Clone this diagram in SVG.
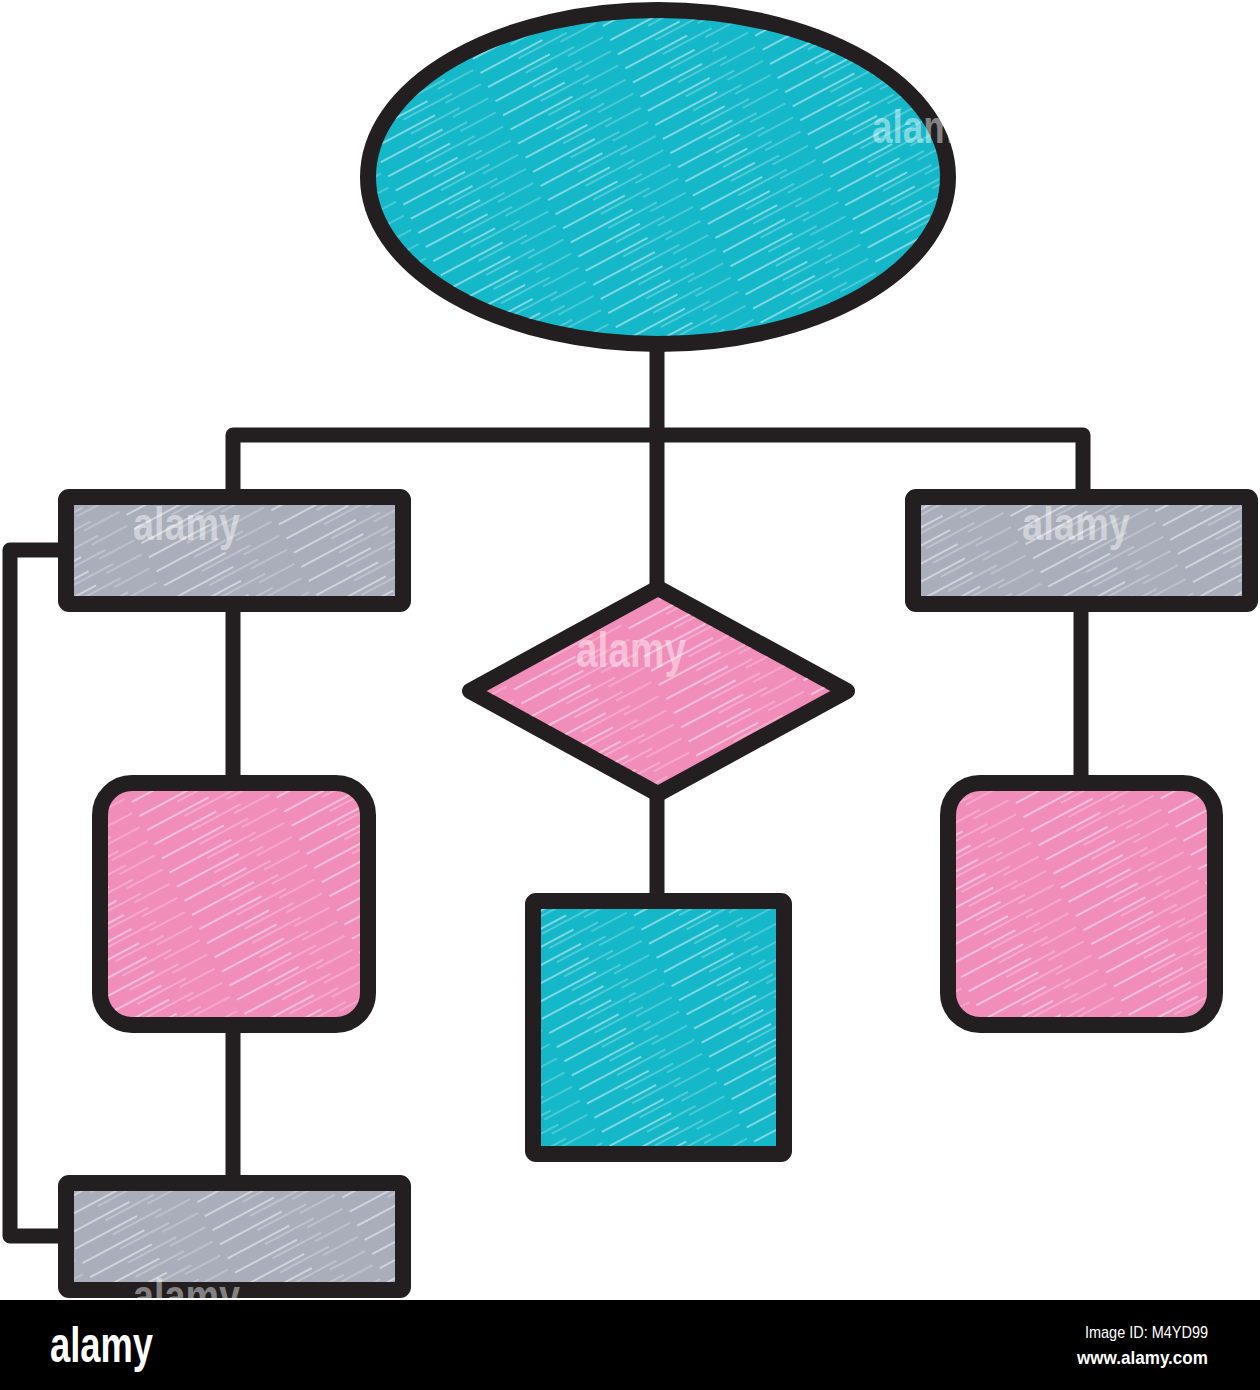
<svg xmlns="http://www.w3.org/2000/svg" width="1260" height="1390" viewBox="0 0 1260 1390">
<style>
.ln{stroke:#231f20;stroke-width:15;fill:none;stroke-linejoin:round}
.nd{stroke:#231f20;stroke-width:16;stroke-linejoin:round}
.teal{fill:#14b8c9}
.gray{fill:#a9aeba}
.pink{fill:#f18db9}
.wm{font-family:"Liberation Sans Narrow","Liberation Sans",Arial,sans-serif;font-weight:bold;fill:#ffffff;fill-opacity:0.45}
</style>
<defs>
<pattern id="hatch" width="130" height="16" patternUnits="userSpaceOnUse" patternTransform="rotate(-28)">
<line x1="0" y1="2" x2="70" y2="2" stroke="#ffffff" stroke-width="1.4" stroke-opacity="0.6"/>
<line x1="40" y1="7" x2="95" y2="7" stroke="#ffffff" stroke-width="1.1" stroke-opacity="0.5"/>
<line x1="85" y1="12" x2="125" y2="12" stroke="#ffffff" stroke-width="1.2" stroke-opacity="0.45"/>
</pattern>
</defs>
<rect width="1260" height="1390" fill="#ffffff"/>
<g id="connectors">
<path class="ln" d="M657 345 V588"/>
<path class="ln" d="M233 497 V435 H1083 V497"/>
<path class="ln" d="M233 605 V783"/>
<path class="ln" d="M233 1026 V1183"/>
<path class="ln" d="M1081 605 V783"/>
<path class="ln" d="M657 794 V901"/>
<path class="ln" d="M66 550 H10 V1236 H66"/>
</g>
<g id="start">
<ellipse class="nd teal" cx="658" cy="177" rx="290" ry="167"/>
<ellipse cx="658" cy="177" rx="282" ry="159" fill="url(#hatch)"/>
</g>
<g id="box-top-left">
<rect class="nd gray" x="66" y="497" width="337" height="107" rx="3"/>
<rect x="74" y="505" width="321" height="91" fill="url(#hatch)"/>
</g>
<g id="box-top-right">
<rect class="nd gray" x="913" y="497" width="337" height="107" rx="3"/>
<rect x="921" y="505" width="321" height="91" fill="url(#hatch)"/>
</g>
<g id="decision">
<polygon class="nd pink" points="470,691 658,588 847,691 658,794"/>
<polygon points="486,691 658,597 831,691 658,785" fill="url(#hatch)"/>
</g>
<g id="process-left">
<rect class="nd pink" x="100" y="783" width="268" height="242" rx="32"/>
<rect x="108" y="791" width="252" height="226" rx="25" fill="url(#hatch)"/>
</g>
<g id="process-right">
<rect class="nd pink" x="948" y="783" width="267" height="242" rx="32"/>
<rect x="956" y="791" width="251" height="226" rx="25" fill="url(#hatch)"/>
</g>
<g id="process-center">
<rect class="nd teal" x="533" y="901" width="251" height="253" rx="3"/>
<rect x="541" y="909" width="235" height="237" fill="url(#hatch)"/>
</g>
<g id="box-bottom">
<rect class="nd gray" x="66" y="1183" width="337" height="107" rx="3"/>
<rect x="74" y="1191" width="321" height="91" fill="url(#hatch)"/>
</g>
<g id="watermarks">
<text class="wm" x="133" y="540" font-size="46" textLength="107" lengthAdjust="spacingAndGlyphs">alamy</text>
<text class="wm" x="1022" y="540" font-size="46" textLength="108" lengthAdjust="spacingAndGlyphs">alamy</text>
<text class="wm" x="576" y="667" font-size="50" textLength="110" lengthAdjust="spacingAndGlyphs">alamy</text>
<text class="wm" x="872" y="143" font-size="46" textLength="84" lengthAdjust="spacingAndGlyphs">alam</text>
<text class="wm" x="133" y="1312" font-size="46" textLength="107" lengthAdjust="spacingAndGlyphs">alamy</text>
</g>
<g id="banner">
<rect x="0" y="1300" width="1260" height="90" fill="#000000"/>
<text x="50" y="1362" font-family="'Liberation Sans Narrow','Liberation Sans',Arial,sans-serif" font-weight="bold" font-size="50" fill="#ffffff" textLength="103" lengthAdjust="spacingAndGlyphs">alamy</text>
<text x="1208" y="1338" text-anchor="end" font-family="'Liberation Sans Narrow','Liberation Sans',Arial,sans-serif" font-size="17" fill="#ffffff" textLength="123" lengthAdjust="spacingAndGlyphs">Image ID: M4YD99</text>
<text x="1208" y="1364" text-anchor="end" font-family="'Liberation Sans Narrow','Liberation Sans',Arial,sans-serif" font-weight="bold" font-size="19" fill="#ffffff" textLength="131" lengthAdjust="spacingAndGlyphs">www.alamy.com</text>
</g>
</svg>
